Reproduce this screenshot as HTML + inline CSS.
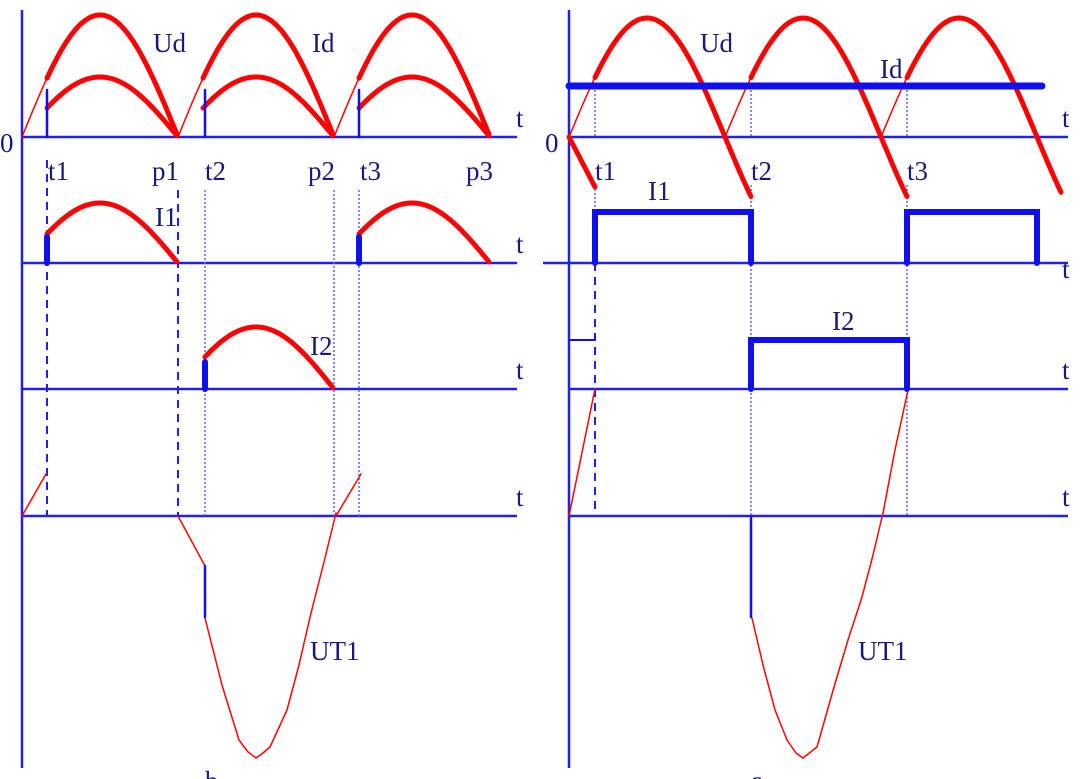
<!DOCTYPE html>
<html><head><meta charset="utf-8"><style>
html,body{margin:0;padding:0;background:#fff;}
svg{display:block;}
text{font-family:"Liberation Serif",serif;font-size:27px;fill:#1a1a7a;}
</style></head><body>
<svg id="s" width="1080" height="779" viewBox="0 0 1080 779" xmlns="http://www.w3.org/2000/svg">
<g stroke="#2020ee" stroke-width="2.5" fill="none">
<line x1="22" y1="10" x2="22" y2="768"/>
<line x1="22" y1="137" x2="517" y2="137"/>
<line x1="22" y1="263" x2="517" y2="263"/>
<line x1="22" y1="389" x2="517" y2="389"/>
<line x1="22" y1="516" x2="517" y2="516"/>
<line x1="569" y1="10" x2="569" y2="768"/>
<line x1="569" y1="137" x2="1068" y2="137"/>
<line x1="543" y1="263" x2="1068" y2="263"/>
<line x1="569" y1="389" x2="1068" y2="389"/>
<line x1="569" y1="516" x2="1068" y2="516"/>
</g>
<g stroke="#2020ee" stroke-width="2" stroke-dasharray="8,6" fill="none">
<line x1="47" y1="160" x2="47" y2="516"/>
<line x1="178" y1="190" x2="178" y2="516"/>
<line x1="595" y1="263" x2="595" y2="516"/>
</g>
<g stroke="#6060ff" stroke-width="1.5" stroke-dasharray="2,2" fill="none">
<line x1="205" y1="190" x2="205" y2="516"/>
<line x1="334" y1="190" x2="334" y2="516"/>
<line x1="359" y1="190" x2="359" y2="516"/>
<line x1="595" y1="86" x2="595" y2="137"/>
<line x1="595" y1="185" x2="595" y2="212"/>
<line x1="751" y1="86" x2="751" y2="137"/>
<line x1="751" y1="185" x2="751" y2="516"/>
<line x1="907" y1="86" x2="907" y2="137"/>
<line x1="907" y1="185" x2="907" y2="516"/>
</g>
<g id="red" stroke="#ff0000" fill="none" stroke-linecap="round" stroke-linejoin="round"></g>
<g stroke="#1010ee" fill="none" stroke-linecap="round">
<line x1="47" y1="137" x2="47" y2="90" stroke-width="2.5"/>
<line x1="205" y1="137" x2="205" y2="90" stroke-width="2.5"/>
<line x1="359" y1="137" x2="359" y2="90" stroke-width="2.5"/>
<line x1="47" y1="237" x2="47" y2="263" stroke-width="6"/>
<line x1="359" y1="237" x2="359" y2="263" stroke-width="6"/>
<line x1="205" y1="362" x2="205" y2="389" stroke-width="6"/>
<line x1="205" y1="566" x2="205" y2="617" stroke-width="2.5"/>
<line x1="569" y1="86" x2="1042" y2="86" stroke-width="7"/>
<polyline points="595,263 595,212 751,212 751,263" stroke-width="6"/>
<polyline points="907,263 907,212 1037,212 1037,263" stroke-width="6"/>
<polyline points="751,389 751,340 907,340 907,389" stroke-width="6"/>
<polyline points="569,340 595,340 595,336" stroke-width="2"/>
<line x1="751" y1="516" x2="751" y2="617" stroke-width="2.5"/>
</g>
<text x="0" y="152">0</text>
<text x="153" y="52">Ud</text>
<text x="312" y="52">Id</text>
<text x="516" y="127">t</text>
<text x="48" y="180">t1</text>
<text x="152" y="180">p1</text>
<text x="205" y="180">t2</text>
<text x="308" y="180">p2</text>
<text x="360" y="180">t3</text>
<text x="466" y="180">p3</text>
<text x="155" y="226">I1</text>
<text x="516" y="253">t</text>
<text x="310" y="355">I2</text>
<text x="516" y="379">t</text>
<text x="516" y="506">t</text>
<text x="310" y="660">UT1</text>
<text x="205" y="790">b</text>
<text x="545" y="152">0</text>
<text x="700" y="52">Ud</text>
<text x="880" y="78">Id</text>
<text x="1062" y="127">t</text>
<text x="595" y="180">t1</text>
<text x="751" y="180">t2</text>
<text x="907" y="180">t3</text>
<text x="648" y="200">I1</text>
<text x="1062" y="278">t</text>
<text x="832" y="330">I2</text>
<text x="1062" y="379">t</text>
<text x="1062" y="506">t</text>
<text x="858" y="660">UT1</text>
<text x="750" y="790">c</text>
</svg>
<script>
var g=document.getElementById('red'),NS='http://www.w3.org/2000/svg';
function pl(pts,w){var p=document.createElementNS(NS,'polyline');p.setAttribute('points',pts.map(function(a){return a[0].toFixed(1)+','+a[1].toFixed(1)}).join(' '));p.setAttribute('stroke-width',w);g.appendChild(p);}
function sine(x0,x1,base,A,z,per){var r=[];for(var x=x0;x<=x1+0.01;x+=2){r.push([x,base-A*Math.sin(Math.PI*(x-z)/per)]);}return r;}
function abss(x0,x1,base,A,z,per){var r=[];for(var x=x0;x<=x1+0.01;x+=2){r.push([x,base-A*Math.abs(Math.sin(Math.PI*(x-z)/per))]);}return r;}
// left top
pl(abss(22,490,137,122,22,156),1.5);
[22,178,334].forEach(function(s){pl(sine(s+25,s+156,137,122,s,156),5);pl(sine(s+25,s+156,137,60,s,156),5);});
// I1, I2
pl(sine(47,178,263,60,22,156),5);
pl(sine(359,490,263,60,334,156),5);
pl(sine(205,334,389,62,178,156),5);
// left bottom
pl([[22,516],[46,474]],1.5);
pl([[336,516],[361,474]],1.5);
pl([[178,516],[205,566]],1.5);
pl([[205,618],[222,685],[239,740],[248,752],[256,758],[263,753],[270,747],[287,710],[299,665],[311,613],[324,562],[336,513]],1.5);
// right top
[569,725,881].forEach(function(s){pl(sine(s,s+26,137,119,s,156),1.5);});
pl([[569,137],[595,187]],5);
[569,725,881].forEach(function(s){pl(sine(s+26,Math.min(s+182,1062),137,119,s,156),5);});
// right bottom
pl([[569,516],[595,389]],1.5);
pl([[752,618],[763,665],[775,710],[787,740],[796,753],[803,758],[817,747],[834,687],[848,640],[862,597],[873,555],[883,513],[895,450],[908,390]],1.5);
</script>
</body></html>
